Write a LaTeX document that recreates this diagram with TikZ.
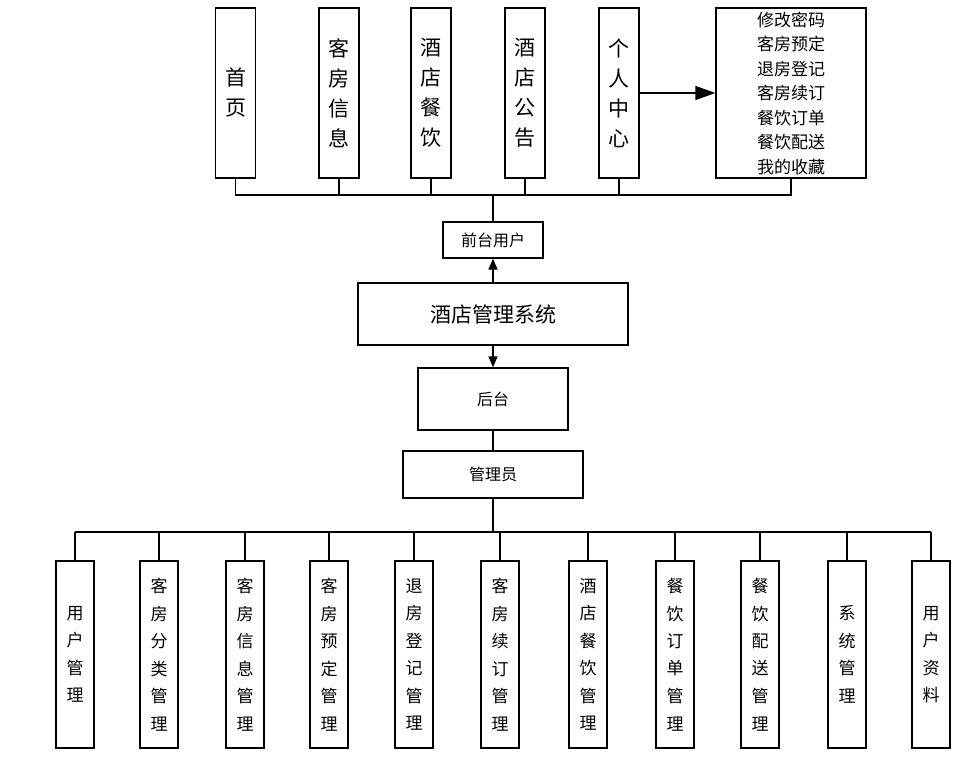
\documentclass[tikz,border=0pt]{standalone}
\usepackage{fontspec}
\setmainfont{Noto Sans CJK SC}
\usetikzlibrary{arrows.meta}
\begin{document}
\begin{tikzpicture}[x=1pt,y=-1pt,
 bx/.style={draw,line width=1.3pt,minimum width=#1,inner sep=0pt,align=center},
 ln/.style={line width=1.3pt},
 ar/.style={line width=1.3pt,-{Triangle[length=11pt,width=9pt]}}]
\useasboundingbox (0,0) rectangle (974,768);
\fill[white] (0,0) rectangle (974,768);
\def\tb#1#2#3{\node[bx=40pt,minimum height=170pt,font=\fontsize{21}{30}\selectfont] (#1) at (#2,93) {#3};}
\tb{t1}{235.5}{首\\页}
\tb{t2}{339}{客\\房\\信\\息}
\tb{t3}{431}{酒\\店\\餐\\饮}
\tb{t4}{525}{酒\\店\\公\\告}
\tb{t5}{619}{个\\人\\中\\心}
\node[bx=150pt,minimum height=170pt,font=\fontsize{17}{24.5}\selectfont] (t6) at (791,93) {修改密码\\客房预定\\退房登记\\客房续订\\餐饮订单\\餐饮配送\\我的收藏};
\draw[line width=1.3pt,-{Triangle[length=20pt,width=14pt]}] (t5.east) -- (t6.west);
\node[bx=100pt,minimum height=36pt,font=\fontsize{16}{18}\selectfont] (qt) at (493,240) {前台用户};
\node[bx=270pt,minimum height=62pt,font=\fontsize{21}{24}\selectfont] (sys) at (493,314) {酒店管理系统};
\node[bx=150pt,minimum height=62pt,font=\fontsize{16}{18}\selectfont] (ht) at (493,399) {后台};
\node[bx=180pt,minimum height=47pt,font=\fontsize{16}{18}\selectfont] (gl) at (493,474.5) {管理员};
\coordinate (bt) at (493,195);
\foreach \n in {t1,t2,t3,t4,t5,t6} \draw[ln] (\n.south) |- (bt);
\draw[ln] (t1.south |- bt) -- (t6.south |- bt);
\draw[ln] (qt.north) -- (bt);
\draw[ar] (sys.north) -- (qt.south);
\draw[ar] (sys.south) -- (ht.north);
\draw[ln] (ht.south) -- (gl.north);
\coordinate (bb) at (493,532);
\draw[ln] (gl.south) -- (bb);
\foreach \i/\x/\t in {1/75/用\\户\\管\\理,2/159/客\\房\\分\\类\\管\\理,3/245/客\\房\\信\\息\\管\\理,4/329/客\\房\\预\\定\\管\\理,5/414/退\\房\\登\\记\\管\\理,6/500/客\\房\\续\\订\\管\\理,7/588/酒\\店\\餐\\饮\\管\\理,8/675/餐\\饮\\订\\单\\管\\理,9/760/餐\\饮\\配\\送\\管\\理,10/847/系\\统\\管\\理,11/931/用\\户\\资\\料}{
 \node[bx=38pt,minimum height=187pt,font=\fontsize{17}{27.5}\selectfont] (b\i) at (\x,654.5) {\t};
 \draw[ln] (b\i.north) -- (b\i.north |- bb);
}
\draw[ln] (b1.north |- bb) -- (b11.north |- bb);
\end{tikzpicture}
\end{document}
